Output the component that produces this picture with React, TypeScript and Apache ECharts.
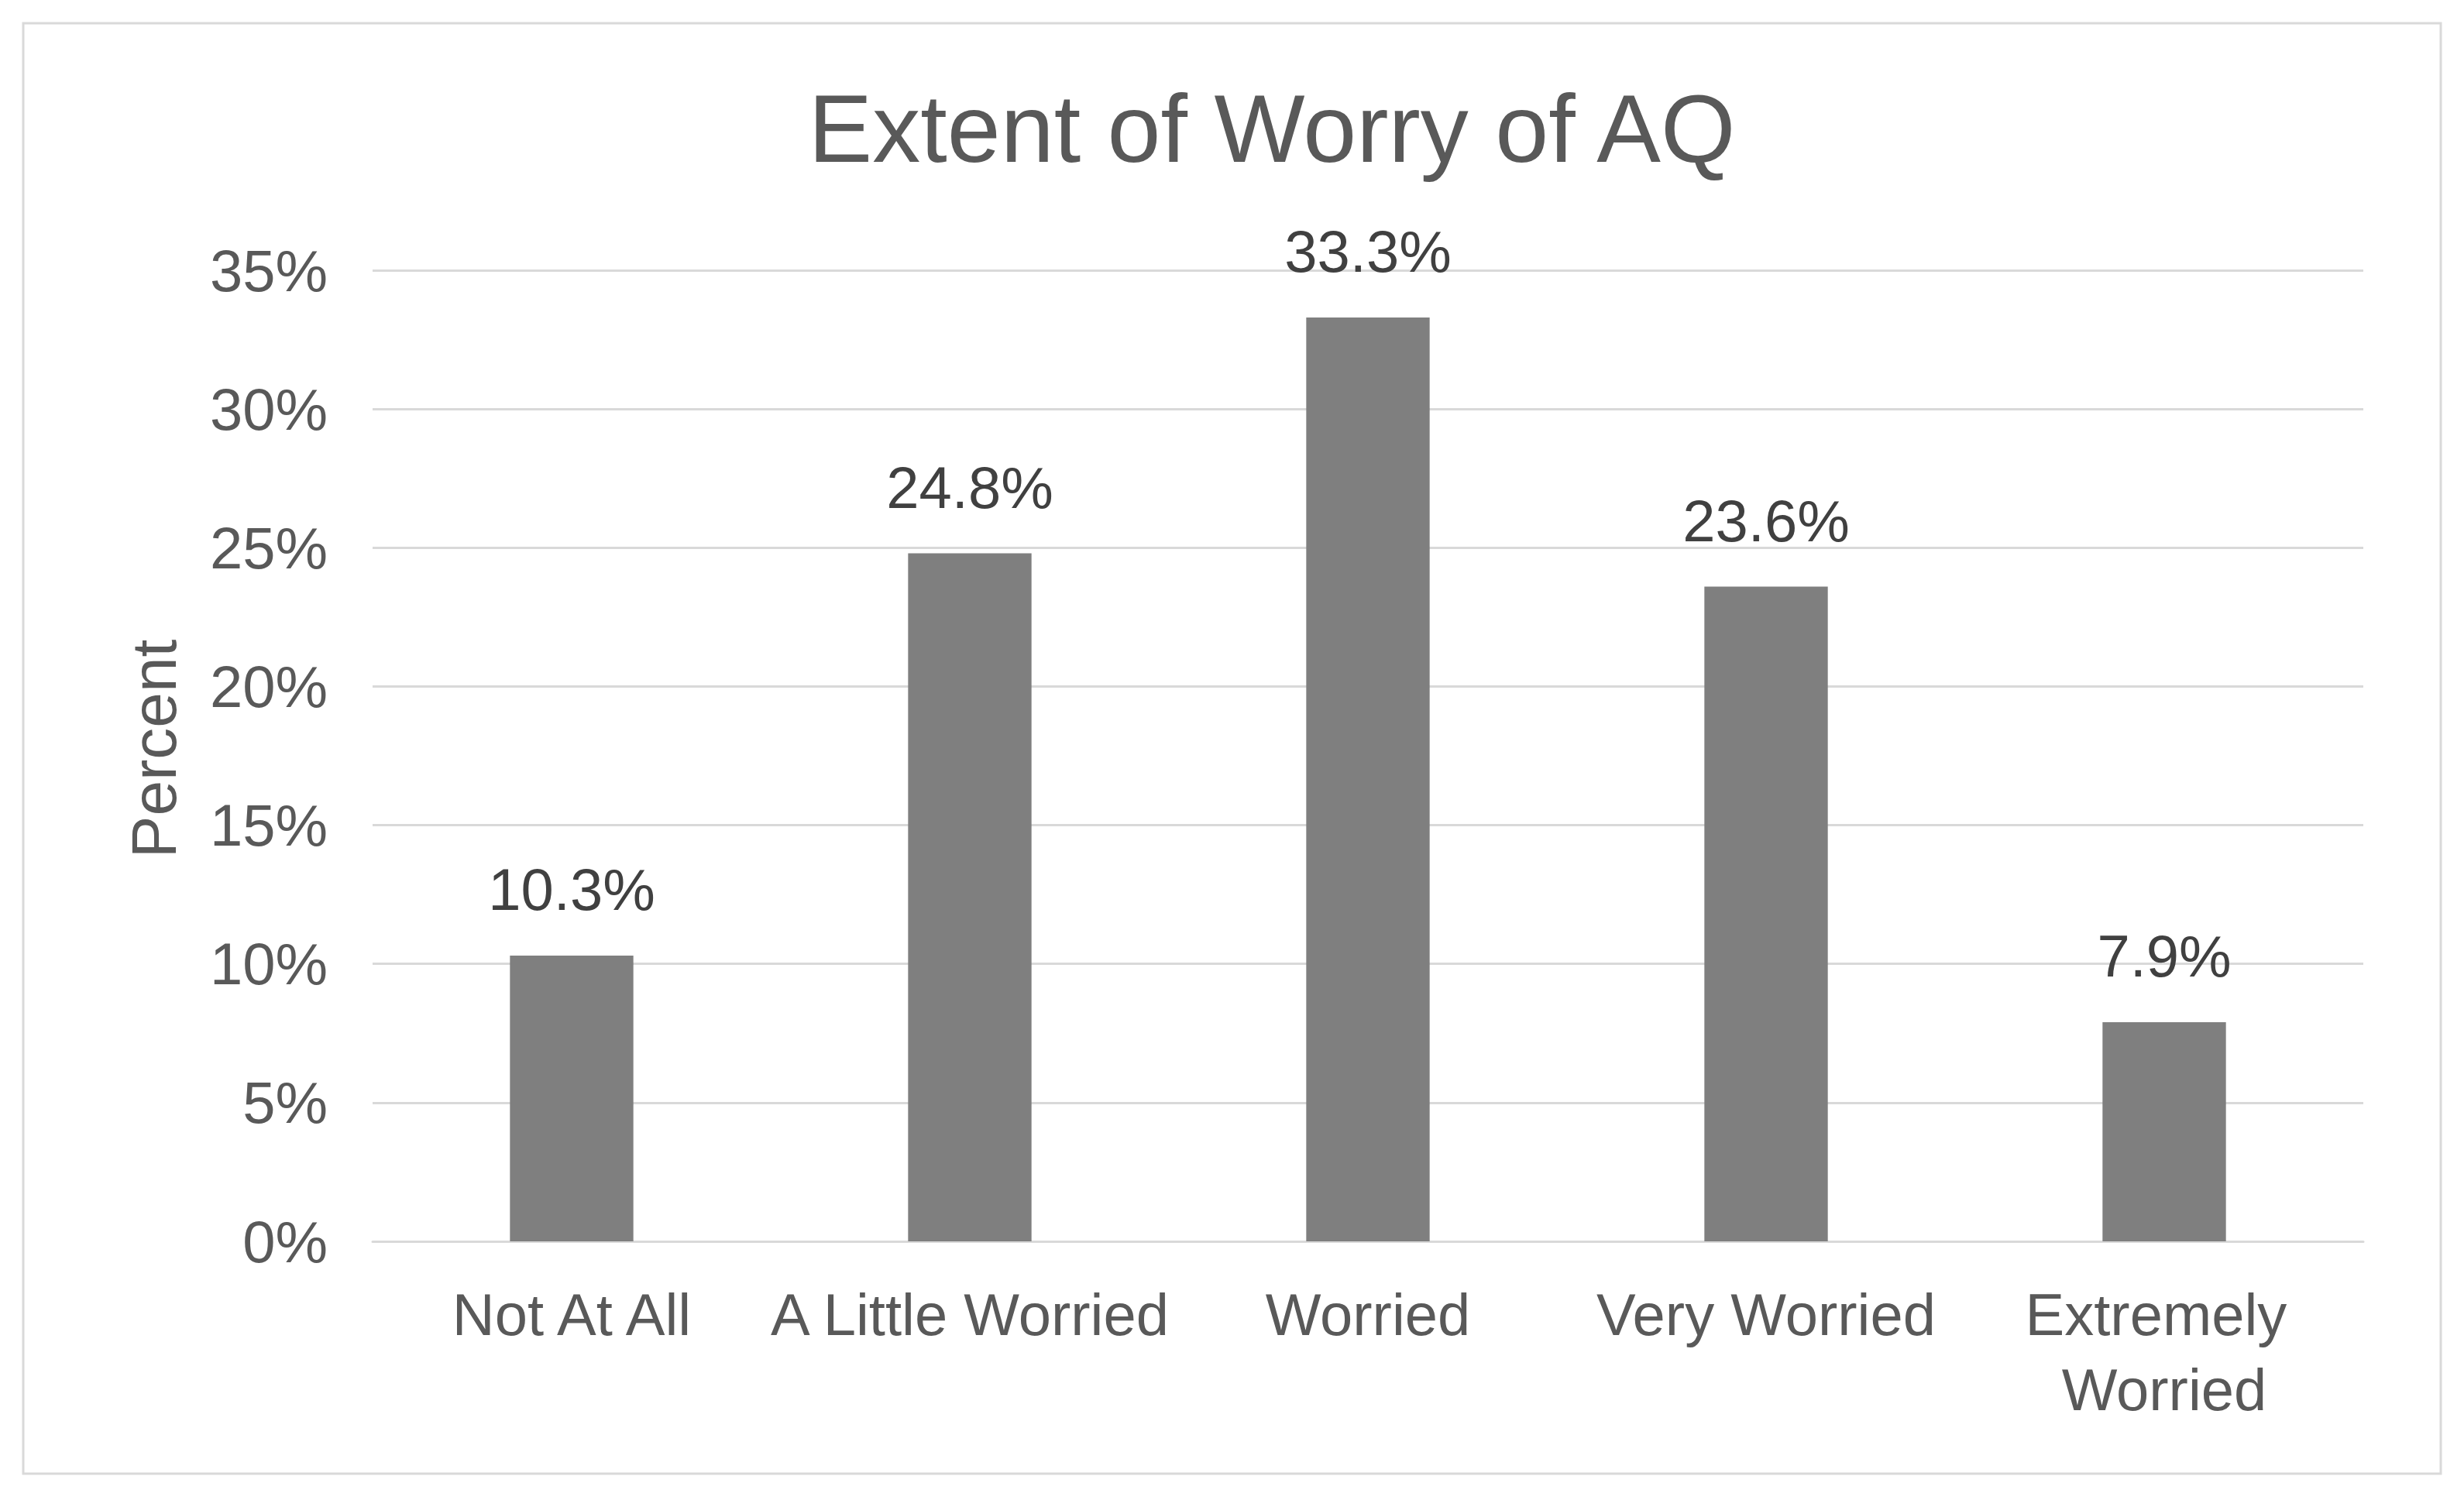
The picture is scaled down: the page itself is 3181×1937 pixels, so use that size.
import React, { useEffect, useRef } from "react";
import * as echarts from "echarts";

const categories: string[] = ["Not At All", "A Little Worried", "Worried", "Very Worried", "Extremely Worried"];
const percentValues: number[] = [10.3, 24.8, 33.3, 23.6, 7.9];
const yTicks: number[] = [0, 5, 10, 15, 20, 25, 30, 35];
const chartTitle = "Extent of Worry of AQ";
const yAxisTitle = "Percent";

const FONT = "'Liberation Sans', Arial, Helvetica, sans-serif";

export default function App() {
  const ref = useRef<HTMLDivElement | null>(null);

  useEffect(() => {
    if (!ref.current) return;
    const chart = echarts.init(ref.current, null, { renderer: "svg" });
    const option: any = {
      animation: false,
      backgroundColor: "#ffffff",
      textStyle: { fontFamily: FONT },
      graphic: [
        {
          type: "rect",
          shape: { x: 30, y: 30, width: 3121, height: 1873 },
          style: { fill: "none", stroke: "#d9d9d9", lineWidth: 3 },
          silent: true,
        },
        {
          type: "text",
          x: 1642,
          y: 166,
          style: {
            text: chartTitle,
            fill: "#595959",
            font: `124px ${FONT}`,
            textAlign: "center",
            textVerticalAlign: "middle",
          },
        },
        {
          type: "text",
          x: 198,
          y: 967,
          rotation: Math.PI / 2,
          style: {
            text: yAxisTitle,
            fill: "#595959",
            font: `82px ${FONT}`,
            textAlign: "center",
            textVerticalAlign: "middle",
          },
        },
      ],
      grid: { left: 481, right: 130, top: 349, bottom: 334, containLabel: false },
      xAxis: {
        type: "category",
        data: categories,
        axisLine: { show: true, lineStyle: { color: "#d9d9d9", width: 3 } },
        axisTick: { show: false },
        axisLabel: {
          interval: 0,
          margin: 46,
          color: "#595959",
          fontSize: 76,
          lineHeight: 97,
          fontFamily: FONT,
          width: 560,
          overflow: "break",
          align: "center",
        },
      },
      yAxis: {
        type: "value",
        min: yTicks[0],
        max: yTicks[yTicks.length - 1],
        interval: yTicks[1] - yTicks[0],
        axisLine: { show: false },
        axisTick: { show: false },
        splitLine: { show: true, lineStyle: { color: "#d9d9d9", width: 3 } },
        axisLabel: {
          formatter: "{value}%",
          margin: 58,
          color: "#595959",
          fontSize: 76,
          fontFamily: FONT,
        },
      },
      series: [
        {
          type: "bar",
          data: percentValues,
          barWidth: "31%",
          itemStyle: { color: "#7f7f7f" },
          label: {
            show: true,
            position: "top",
            distance: 47,
            formatter: "{c}%",
            color: "#404040",
            fontSize: 76,
            fontFamily: FONT,
          },
        },
      ],
    };
    chart.setOption(option);
    return () => {
      chart.dispose();
    };
  }, []);

  return (
    <div
      ref={ref}
      style={{ position: "fixed", left: 0, top: 0, width: 3181, height: 1937, background: "#ffffff" }}
    />
  );
}
